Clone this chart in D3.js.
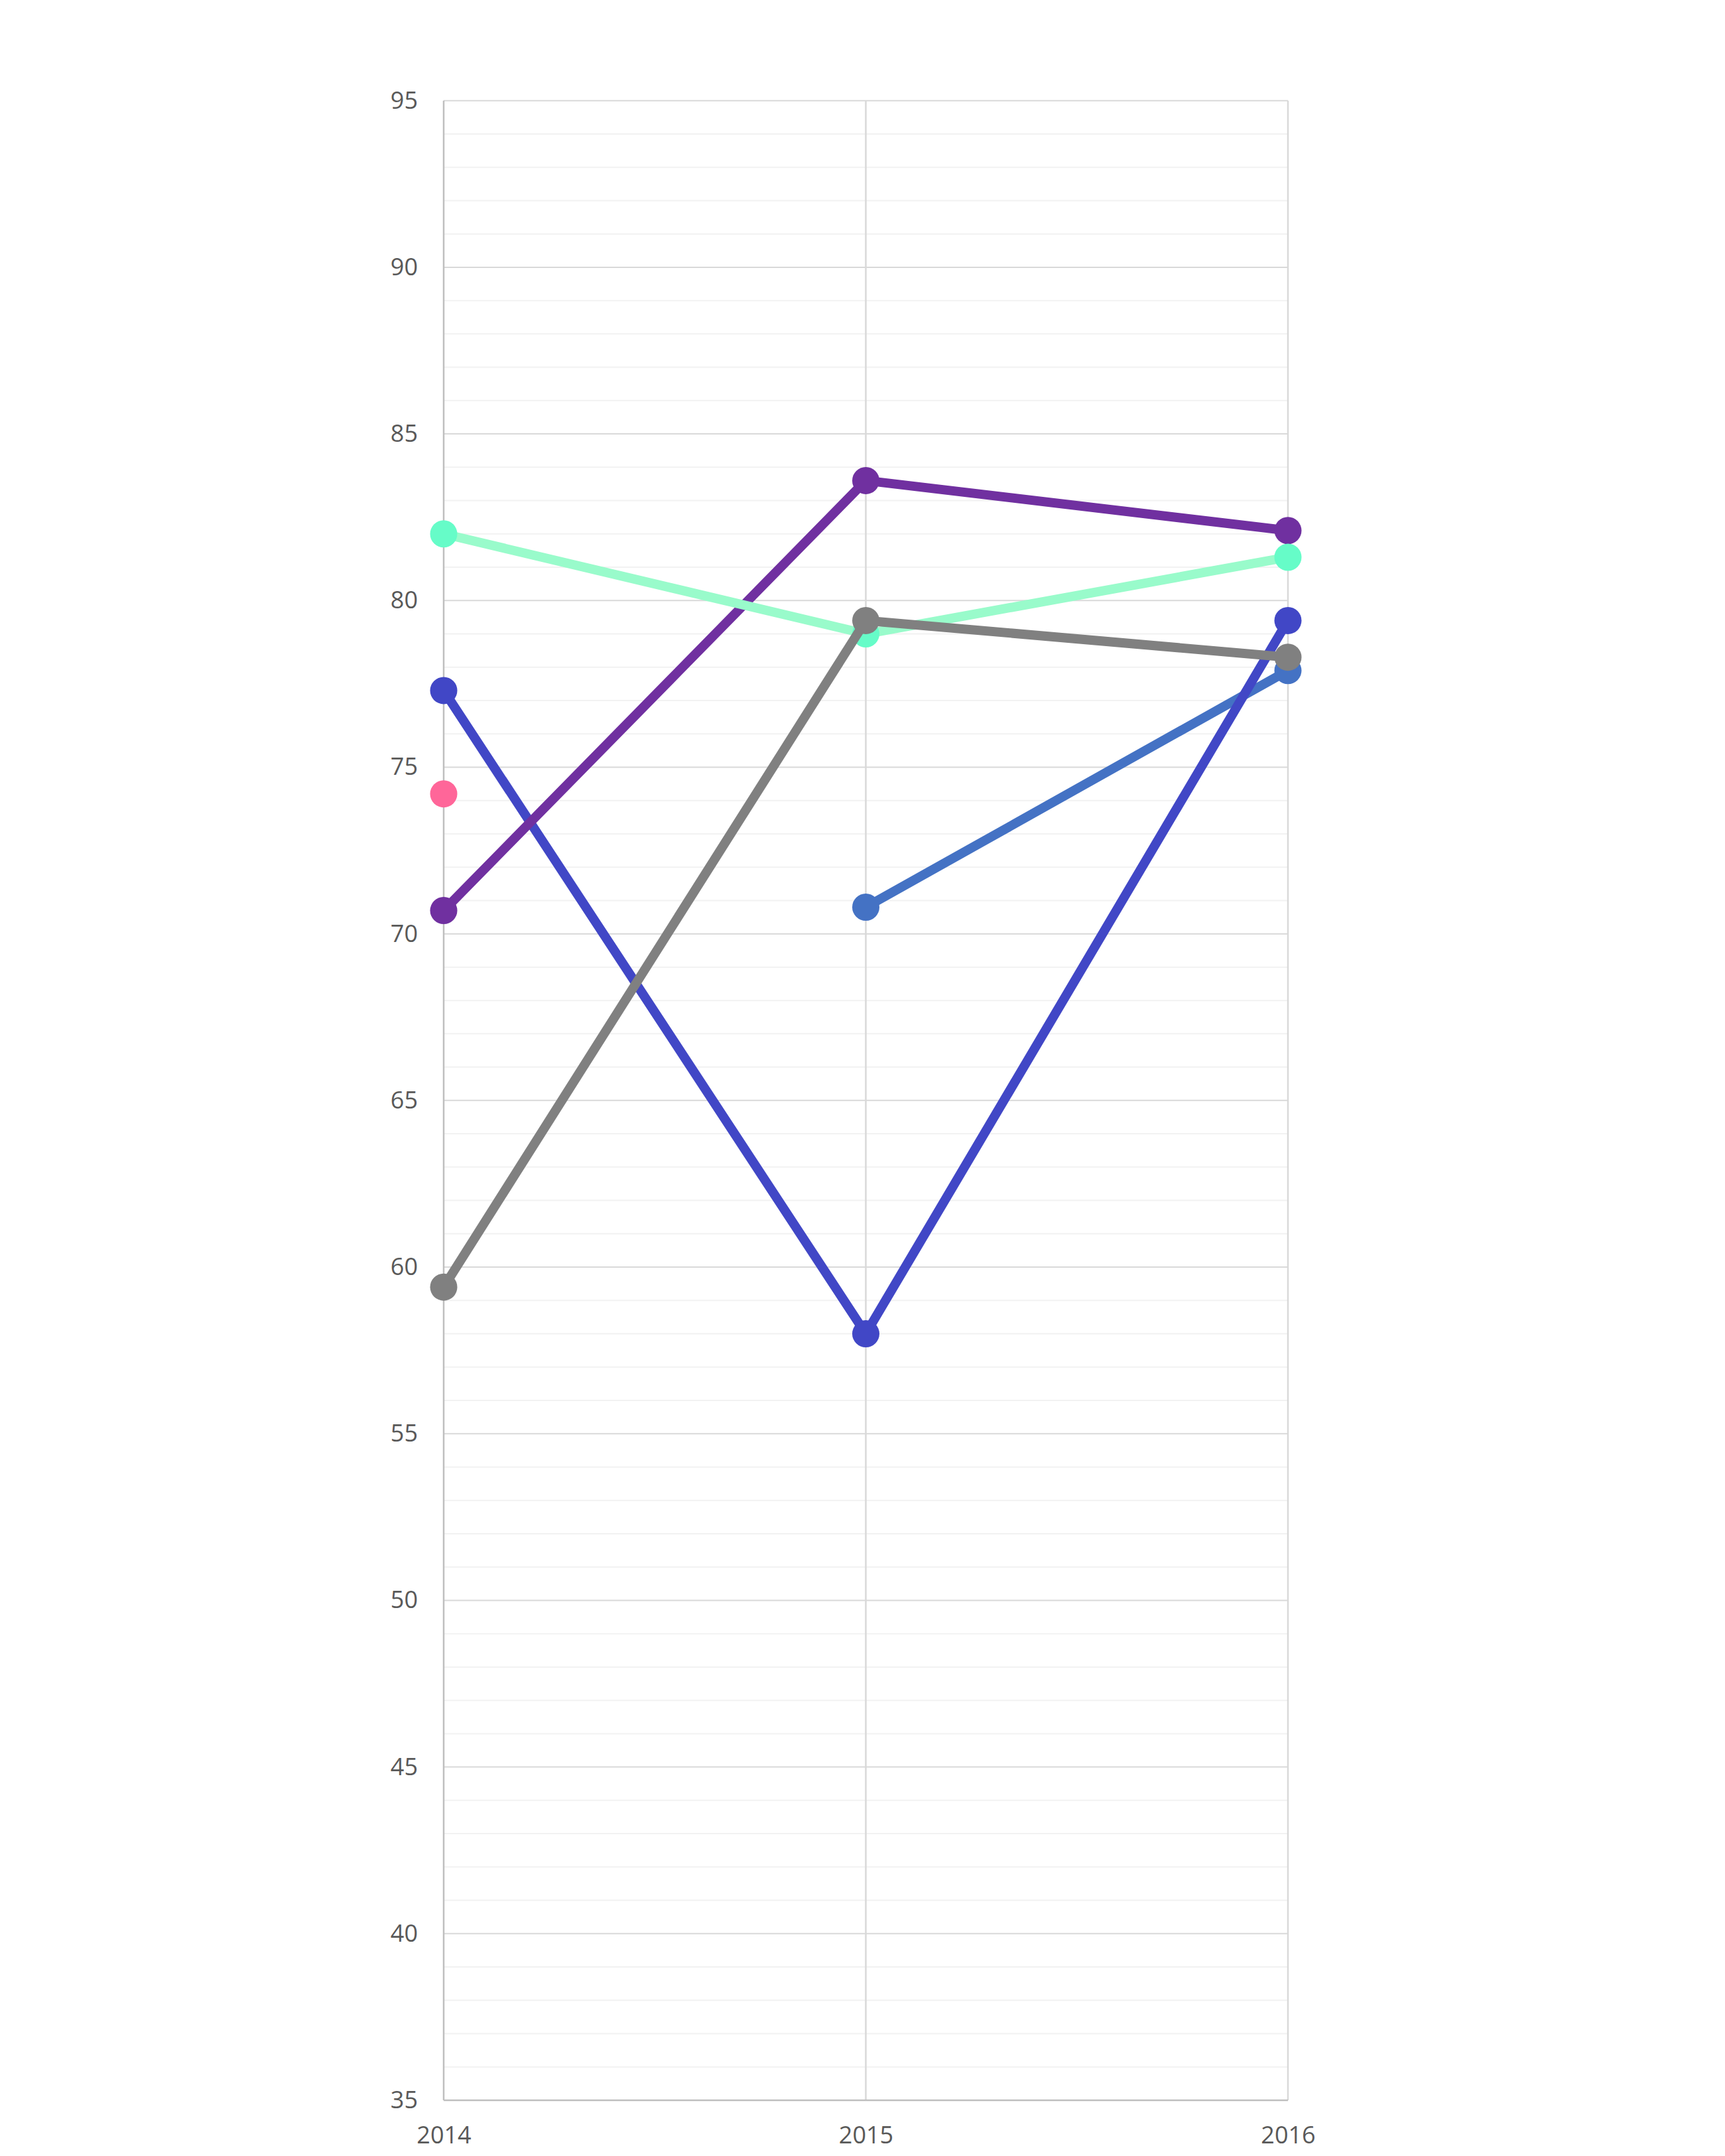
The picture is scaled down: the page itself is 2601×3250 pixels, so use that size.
<!DOCTYPE html>
<html>
<head>
<meta charset="utf-8">
<script src="https://cdn.jsdelivr.net/npm/d3@7"></script>
<style>
  html, body { margin: 0; padding: 0; background: #ffffff; }
  svg { display: block; }
</style>
</head>
<body>
<script>
// ---- Data ----
const years = ["2014", "2015", "2016"];
const yTickValues = [35, 40, 45, 50, 55, 60, 65, 70, 75, 80, 85, 90, 95];

const pinkValues   = [74.2, null, null];
const steelValues  = [null, 70.8, 77.9];
const blueValues   = [77.3, 58.0, 79.4];
const purpleValues = [70.7, 83.6, 82.1];
const greenValues  = [82.0, 79.0, 81.3];
const grayValues   = [59.4, 79.4, 78.3];

const seriesList = [
  { name: "pink",   values: pinkValues,   line: "#ff6699", marker: "#ff6699" },
  { name: "steel",  values: steelValues,  line: "#4472c4", marker: "#4472c4" },
  { name: "blue",   values: blueValues,   line: "#4147c6", marker: "#4147c6" },
  { name: "purple", values: purpleValues, line: "#7030a0", marker: "#7030a0" },
  { name: "green",  values: greenValues,  line: "#99fbcb", marker: "#66fcc8" },
  { name: "gray",   values: grayValues,   line: "#808080", marker: "#808080" }
];

// ---- Layout ----
const W = 2601, H = 3250;
const plotL = 669, plotR = 1942, plotT = 151.7, plotB = 3166;

const svg = d3.select("body").append("svg")
  .attr("width", W).attr("height", H);

const x = d3.scalePoint().domain(years).range([plotL, plotR]).padding(0);
const y = d3.scaleLinear().domain([35, 95]).range([plotB, plotT]);

const font = "'Open Sans', 'Noto Sans', sans-serif";

// minor gridlines
svg.append("g").selectAll("line")
  .data(d3.range(36, 95, 1).filter(v => v % 5 !== 0))
  .join("line")
  .attr("x1", plotL).attr("x2", plotR)
  .attr("y1", d => y(d)).attr("y2", d => y(d))
  .attr("stroke", "#f2f2f2").attr("stroke-width", 2);

// major gridlines
svg.append("g").selectAll("line")
  .data(yTickValues.filter(v => v !== 35))
  .join("line")
  .attr("x1", plotL).attr("x2", plotR)
  .attr("y1", d => y(d)).attr("y2", d => y(d))
  .attr("stroke", "#d9d9d9").attr("stroke-width", 2);

// vertical gridlines
svg.append("g").selectAll("line")
  .data(years.slice(1))
  .join("line")
  .attr("x1", d => x(d)).attr("x2", d => x(d))
  .attr("y1", plotT).attr("y2", plotB)
  .attr("stroke", "#d9d9d9").attr("stroke-width", 2.5);

// axes lines
svg.append("line")
  .attr("x1", plotL).attr("x2", plotL).attr("y1", plotT).attr("y2", plotB)
  .attr("stroke", "#bfbfbf").attr("stroke-width", 2.5);
svg.append("line")
  .attr("x1", plotL).attr("x2", plotR).attr("y1", plotB).attr("y2", plotB)
  .attr("stroke", "#bfbfbf").attr("stroke-width", 2.5);

// y axis labels
const yAxis = d3.axisLeft(y).tickValues(yTickValues).tickSize(0).tickPadding(39)
  .tickFormat(d3.format("d"));
const gy = svg.append("g").attr("transform", `translate(${plotL},0)`).call(yAxis);
gy.select(".domain").remove();
gy.selectAll("text")
  .attr("font-family", font).attr("font-size", 36).attr("fill", "#595959");

// x axis labels
const xAxis = d3.axisBottom(x).tickSize(0).tickPadding(0);
const gx = svg.append("g").attr("transform", `translate(0,${plotB})`).call(xAxis);
gx.select(".domain").remove();
gx.selectAll("text")
  .attr("font-family", font).attr("font-size", 36).attr("fill", "#595959")
  .attr("dy", null).attr("y", 65);

// series
const lineGen = d3.line()
  .defined(d => d.v !== null)
  .x(d => x(d.year)).y(d => y(d.v));

seriesList.forEach(s => {
  const pts = years.map((yr, i) => ({ year: yr, v: s.values[i] }));
  const g = svg.append("g");
  g.append("path")
    .datum(pts)
    .attr("d", lineGen)
    .attr("fill", "none")
    .attr("stroke", s.line)
    .attr("stroke-width", 14)
    .attr("stroke-linejoin", "round");
  g.selectAll("circle")
    .data(pts.filter(d => d.v !== null))
    .join("circle")
    .attr("cx", d => x(d.year)).attr("cy", d => y(d.v))
    .attr("r", 20.5)
    .attr("fill", s.marker);
});
</script>
</body>
</html>
